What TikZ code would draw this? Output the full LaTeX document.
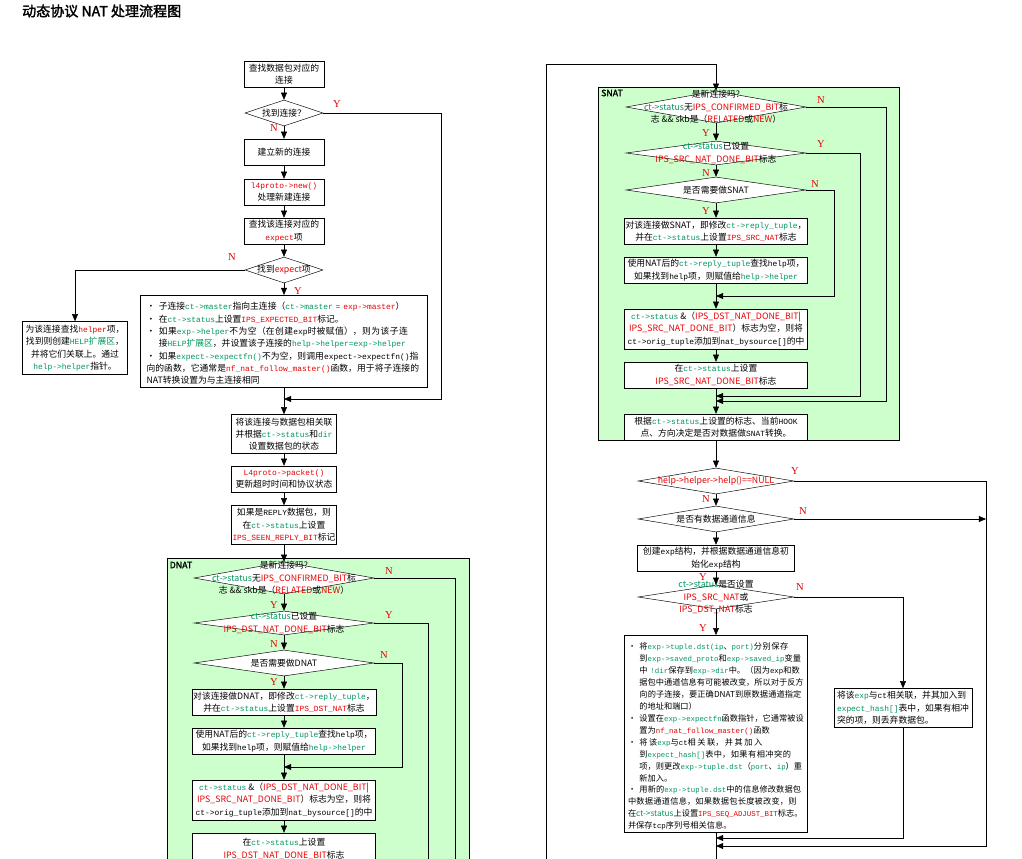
\documentclass[tikz,border=0pt]{standalone}
\usepackage{fontspec}
\setmainfont{Noto Sans CJK SC}[AutoFakeBold=2]
\setmonofont{Liberation Mono}[Scale=0.9]
\newfontfamily\ynf{Liberation Serif}
\usetikzlibrary{shapes.geometric,arrows.meta}
\XeTeXlinebreaklocale "zh"
\XeTeXlinebreakskip=0pt plus 0.5pt
\definecolor{nred}{RGB}{230,0,0}
\definecolor{ngreen}{RGB}{0,150,90}
\definecolor{ngr}{RGB}{204,255,204}
\newcommand\fs{\fontsize{7.5}{10.5}\selectfont}
\newcommand\fss{\fontsize{7}{10.2}\selectfont}
\newcommand\rc[1]{\textcolor{nred}{\ttfamily #1}}
\newcommand\gc[1]{\textcolor{ngreen}{\ttfamily #1}}
\newcommand\kc[1]{{\ttfamily #1}}
\newcommand\rs[1]{\textcolor{nred}{#1}}
\newcommand\gs[1]{\textcolor{ngreen}{#1}}
\newcommand\bi[1]{\par\noindent\hangindent=1.4em\hangafter=1\makebox[1.4em][l]{\textbullet}#1}
\tikzset{
  box/.style={draw,fill=white,align=center,font=\fs,inner sep=1pt},
  dia/.style={diamond,draw,fill=white,inner sep=0pt},
  lbl/.style={align=center,font=\fs},
  wd/.style={minimum width=#1*0.03cm},
  ht/.style={minimum height=#1*0.03cm},
  arr/.style={-{Triangle[length=6pt,width=5pt]}},
  yn/.style={text=nred,font=\ynf\small,inner sep=0pt},
  area/.style={font=\fs\bfseries,inner sep=0pt}
}
\begin{document}
\begin{tikzpicture}[x=0.03cm,y=-0.03cm]
\useasboundingbox (0,0) rectangle (1022,859);

\node[anchor=west,font=\fontsize{12}{14}\selectfont\bfseries] (title) at (18,11) {动态协议 NAT 处理流程图};

% green areas
\draw[fill=ngr] (167,558) rectangle (469,880);
\draw[fill=ngr] (598,87) rectangle (899,440);
\node[area] (dnat) at (181,565) {DNAT};
\node[area] (snat) at (612,93) {SNAT};

% left column
\node[box,wd=80,ht=26] (b1) at (284,74) {查找数据包对应的\\连接};
\node[dia,wd=78,ht=26,label={[lbl]center:找到连接？}] (d1) at (284,113) {};
\node[box,wd=80,ht=26] (b2) at (284,152) {建立新的连接};
\node[box,wd=80,ht=26] (b3) at (284,192) {\rc{l4proto->new()}\\处理新建连接};
\node[box,wd=80,ht=26] (b4) at (284,231) {查找该连接对应的\\\rc{expect}项};
\node[dia,wd=78,ht=26,label={[lbl]center:找到\rs{expect}项}] (d2) at (284,270) {};
\node[box,wd=105,ht=53] (lb) at (75,348) {为该连接查找\rc{helper}项，\\找到则创建\gc{HELP}\gs{扩展区}，\\并将它们关联上。通过\\\gc{help->helper}指针。};
\node[box,align=left,text width=275*0.03cm,inner sep=2pt,wd=287,ht=91] (bb) at (284,341) {%
\bi{子连接\gc{ct->master}指向主连接（\gc{ct->master} \rc{= exp->master}）}
\bi{在\gc{ct->status}上设置\rc{IPS\_EXPECTED\_BIT}标记。}
\bi{如果\gc{exp->helper}不为空（在创建\kc{exp}时被赋值），则为该子连接\gc{HELP}\gs{扩展区}，并设置该子连接的\gc{help->helper=exp->helper}}
\bi{如果\gc{expect->expectfn()}不为空，则调用\kc{expect->expectfn()}指向的函数，它通常是\rc{nf\_nat\_follow\_master()}函数，用于将子连接的NAT转换设置为与主连接相同}};
\node[box,wd=105,ht=39] (b5) at (284,434) {将该连接与数据包相关联\\并根据\gc{ct->status}和\gc{dir}\\设置数据包的状态};
\node[box,wd=105,ht=26] (b6) at (284,479) {\rc{L4proto->packet()}\\更新超时时间和协议状态};
\node[box,wd=105,ht=39] (b7) at (284,525) {如果是\kc{REPLY}数据包，则\\在\gc{ct->status}上设置\\\rc{IPS\_SEEN\_REPLY\_BIT}标记};

% DNAT
\node[dia,wd=180,ht=32,label={[lbl]center:是新连接吗?\\\gs{ct->status}无\rs{IPS\_CONFIRMED\_BIT}标\\志 \&\& skb是（\rs{RELATED}或\rs{NEW}）}] (dd1) at (284,578) {};
\node[dia,wd=180,ht=24,label={[lbl]center:\gs{ct->status}已设置\\\rs{IPS\_DST\_NAT\_DONE\_BIT}标志}] (dd2) at (284,623) {};
\node[dia,wd=180,ht=26,label={[lbl]center:是否需要做DNAT}] (dd3) at (284,663) {};
\node[box,wd=183,ht=26] (db1) at (284,702) {对该连接做DNAT，即修改\gc{ct->reply\_tuple}，\\并在\gc{ct->status}上设置\rc{IPS\_DST\_NAT}标志};
\node[box,wd=183,ht=26] (db2) at (284,741) {使用NAT后的\gc{ct->reply\_tuple}查找\kc{help}项，\\如果找到\kc{help}项，则赋值给\gc{help->helper}};
\node[box,wd=183,ht=40] (db3) at (284,800) {\gc{ct->status} \&（\rs{IPS\_DST\_NAT\_DONE\_BIT}|\\\rs{IPS\_SRC\_NAT\_DONE\_BIT}）标志为空，则将\\\kc{ct->orig\_tuple}添加到\kc{nat\_bysource[]}的中};
\node[box,wd=183,ht=32] (db4) at (284,849) {在\gc{ct->status}上设置\\\rs{IPS\_DST\_NAT\_DONE\_BIT}标志};

% SNAT
\node[dia,wd=180,ht=32,label={[lbl]center:是新连接吗?\\\gs{ct->status}无\rs{IPS\_CONFIRMED\_BIT}标\\志 \&\& skb是（\rs{RELATED}或\rs{NEW}）}] (sd1) at (716,107) {};
\node[dia,wd=180,ht=24,label={[lbl]center:\gs{ct->status}已设置\\\rs{IPS\_SRC\_NAT\_DONE\_BIT}标志}] (sd2) at (716,153) {};
\node[dia,wd=180,ht=26,label={[lbl]center:是否需要做SNAT}] (sd3) at (716,190) {};
\node[box,wd=183,ht=26] (sb1) at (716,231) {对该连接做SNAT，即修改\gc{ct->reply\_tuple}，\\并在\gc{ct->status}上设置\rc{IPS\_SRC\_NAT}标志};
\node[box,wd=183,ht=26] (sb2) at (716,270) {使用NAT后的\gc{ct->reply\_tuple}查找\kc{help}项，\\如果找到\kc{help}项，则赋值给\gc{help->helper}};
\node[box,wd=183,ht=40] (sb3) at (716,329) {\gc{ct->status} \&（\rs{IPS\_DST\_NAT\_DONE\_BIT}|\\\rs{IPS\_SRC\_NAT\_DONE\_BIT}）标志为空，则将\\\kc{ct->orig\_tuple}添加到\kc{nat\_bysource[]}的中};
\node[box,wd=183,ht=26] (sb4) at (716,375) {在\gc{ct->status}上设置\\\rs{IPS\_SRC\_NAT\_DONE\_BIT}标志};
\node[box,wd=183,ht=26] (sb5) at (716,427) {根据\gc{ct->status}上设置的标志、当前\kc{HOOK}\\点、方向决定是否对数据做\kc{SNAT}转换。};

% helper part
\node[dia,wd=156,ht=26,label={[lbl]center:\rs{help->helper->help()==NULL}}] (h1) at (716,481) {};
\node[dia,wd=156,ht=26,label={[lbl]center:是否有数据通道信息}] (h2) at (716,519) {};
\node[box,wd=157,ht=26] (h3) at (716,558) {创建\kc{exp}结构，并根据数据通道信息初\\始化\kc{exp}结构};
\node[dia,wd=156,ht=24,label={[lbl]center:\gs{ct->status}是否设置\\\rs{IPS\_SRC\_NAT}或\\\rs{IPS\_DST\_NAT}标志}] (h4) at (716,597) {};
\node[box,align=left,font=\fss,text width=176*0.03cm,inner sep=2pt,wd=183,ht=197] (hb) at (716,734) {%
\bi{将\gc{exp->tuple.dst(ip}、\gc{port)}分别保存到\gc{exp->saved\_proto}和\gc{exp->saved\_ip}变量中 \gc{!dir}保存到\gc{exp->dir}中。（因为\kc{exp}和数据包中通道信息有可能被改变，所以对于反方向的子连接，要正确DNAT到原数据通道指定的地址和端口）}
\bi{设置在\gc{exp->expectfn}函数指针，它通常被设置为\rc{nf\_nat\_follow\_master()}函数}
\bi{将该\gc{exp}与\kc{ct}相关联，并其加入到\gc{expect\_hash[]}表中，如果有相冲突的项，则更改\gc{exp->tuple.dst}（\gc{port}、\gc{ip}）重新加入。}
\bi{用新的\gc{exp->tuple.dst}中的信息修改数据包中数据通道信息，如果数据包长度被改变，则在\gs{ct->status}上设置\rc{IPS\_SEQ\_ADJUST\_BIT}标志。并保存\kc{tcp}序列号相关信息。}};
\node[box,align=left,wd=138,ht=39] (hr) at (903,708) {将该\gc{exp}与\kc{ct}相关联，并其加入到\\\gc{expect\_hash[]}表中，如果有相冲\\突的项，则丢弃数据包。};

% corner points
\coordinate (c1) at (441,399); \coordinate (m1) at (284,399);
\coordinate (c2) at (402,767); \coordinate (m2) at (284,767);
\coordinate (c3) at (428,859); \coordinate (c4) at (455,859);
\coordinate (lend) at (284,859);
\coordinate (c5) at (546,859); \coordinate (c6) at (546,64);
\coordinate (c7) at (834,296); \coordinate (m3) at (716,296);
\coordinate (c8) at (860,396); \coordinate (m4) at (716,396);
\coordinate (c9) at (886,401); \coordinate (m5) at (716,401);
\coordinate (c10) at (986,846); \coordinate (m6) at (716,846);
\coordinate (c11) at (986,519);
\coordinate (c12) at (903,838); \coordinate (m7) at (716,838);
\coordinate (rend) at (716,859);

% connectors
\foreach \a/\b in {b1/d1,d1/b2,b2/b3,b3/b4,b4/d2,d2/bb,bb/b5,b5/b6,b6/b7,b7/dd1,dd1/dd2,dd2/dd3,dd3/db1,db1/db2,db2/db3,db3/db4,
  sd1/sd2,sd2/sd3,sd3/sb1,sb1/sb2,sb2/sb3,sb3/sb4,sb4/sb5,sb5/h1,h1/h2,h2/h3,h3/h4,h4/hb}
  \draw[arr] (\a) -- (\b);
\draw[arr] (d1.east) -| (c1) -- (m1);
\draw[arr] (d2.west) -| (lb.north);
\draw[arr] (dd3.east) -| (c2) -- (m2);
\draw (dd2.east) -| (c3);
\draw (dd1.east) -| (c4);
\draw (db4) -- (lend);
\draw[arr] (c5) -- (c6) -| (sd1.north);
\draw[arr] (sd3.east) -| (c7) -- (m3);
\draw[arr] (sd2.east) -| (c8) -- (m4);
\draw[arr] (sd1.east) -| (c9) -- (m5);
\draw[arr] (h1.east) -| (c10) -- (m6);
\draw[arr] (h2.east) -- (c11);
\draw[arr] (h4.east) -| (hr.north);
\draw[arr] (hr.south) |- (m7);
\draw (hb) -- (rend);

% Y/N labels
\node[yn] (y1) at (337,104) {Y};
\node[yn] (n1) at (274,128) {N};
\node[yn] (n2) at (232,257) {N};
\node[yn] (y2) at (298,291) {Y};
\node[yn] (n3) at (389,571) {N};
\node[yn] (y3) at (274,605) {Y};
\node[yn] (y4) at (389,615) {Y};
\node[yn] (n4) at (274,644) {N};
\node[yn] (n5) at (384,655) {N};
\node[yn] (y5) at (274,682) {Y};
\node[yn] (n6) at (821,100) {N};
\node[yn] (y6) at (706,133) {Y};
\node[yn] (y7) at (821,144) {Y};
\node[yn] (n7) at (706,173) {N};
\node[yn] (n8) at (815,184) {N};
\node[yn] (y8) at (706,211) {Y};
\node[yn] (y9) at (795,471) {Y};
\node[yn] (n9) at (706,499) {N};
\node[yn] (n10) at (803,511) {N};
\node[yn] (y10) at (703,577) {Y};
\node[yn] (n11) at (800,587) {N};
\node[yn] (y11) at (703,628) {Y};
\end{tikzpicture}
\end{document}
